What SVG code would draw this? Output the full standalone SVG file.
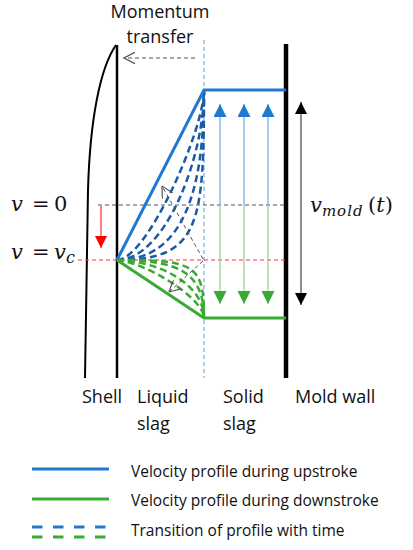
<svg xmlns="http://www.w3.org/2000/svg" width="413" height="550" viewBox="0 0 413 550">
<defs>
<style>
.lbl{font-family:"Open Sans","Noto Sans",sans-serif;font-size:18px;fill:#111}
.leg{font-family:"Open Sans","Noto Sans",sans-serif;font-size:15.5px;fill:#111}
.math{font-family:"DejaVu Serif","Liberation Serif",serif;font-size:21px;fill:#111}
.it{font-style:italic}
.blue{stroke:#1f78d1;stroke-width:3;fill:none}
.green{stroke:#3aaa35;stroke-width:3;fill:none}
.bdash{stroke:#1a5aa6;stroke-width:2.5;fill:none;stroke-dasharray:7 4}
.gdash{stroke:#3aaa35;stroke-width:2.5;fill:none;stroke-dasharray:7 4}
.gray{stroke:#555;stroke-width:1;fill:none;stroke-dasharray:4 3}
</style>
<marker id="open" viewBox="0 0 10 10" refX="9.5" refY="5" markerWidth="12" markerHeight="12" markerUnits="userSpaceOnUse" orient="auto">
<path d="M0,0 L9.5,5 L0,10" fill="none" stroke="#555" stroke-width="1"/>
</marker>
<marker id="blueHead" viewBox="0 0 10 10" refX="5" refY="0" markerWidth="13" markerHeight="13" markerUnits="userSpaceOnUse" orient="0">
<path d="M0,10 L5,0 L10,10 Z" fill="#1f78d1"/>
</marker>
<marker id="greenHead" viewBox="0 0 10 10" refX="5" refY="10" markerWidth="13" markerHeight="13" markerUnits="userSpaceOnUse" orient="0">
<path d="M0,0 L10,0 L5,10 Z" fill="#3aaa35"/>
</marker>
<marker id="redHead" viewBox="0 0 10 10" refX="5" refY="10" markerWidth="12" markerHeight="13" markerUnits="userSpaceOnUse" orient="0">
<path d="M0,0 L10,0 L5,10 Z" fill="#f00"/>
</marker>
<marker id="blkUp" viewBox="0 0 10 10" refX="5" refY="0" markerWidth="12" markerHeight="13" markerUnits="userSpaceOnUse" orient="0">
<path d="M0,10 L5,0 L10,10 Z" fill="#000"/>
</marker>
<marker id="blkDown" viewBox="0 0 10 10" refX="5" refY="10" markerWidth="12" markerHeight="13" markerUnits="userSpaceOnUse" orient="0">
<path d="M0,0 L10,0 L5,10 Z" fill="#000"/>
</marker>
</defs>
<rect width="413" height="550" fill="#fff"/>

<g id="shell">
<path d="M116,45 C100,68 90,120 88,190 L85,378" fill="none" stroke="#000" stroke-width="2"/>
<line x1="117" y1="45" x2="117" y2="378" stroke="#000" stroke-width="2.5"/>
<text class="lbl" x="82" y="403">Shell</text>
</g>

<g id="interface">
<line x1="204" y1="40" x2="204" y2="378" stroke="#5b9bd5" stroke-width="1" stroke-dasharray="4 3"/>
</g>

<g id="mold-wall">
<line x1="286" y1="44" x2="286" y2="378" stroke="#000" stroke-width="4.5"/>
<text class="lbl" x="295" y="403">Mold wall</text>
</g>

<g id="liquid-slag">
<text class="lbl" x="137" y="403">Liquid</text>
<text class="lbl" x="137" y="430">slag</text>
</g>

<g id="solid-slag">
<text class="lbl" x="223" y="403">Solid</text>
<text class="lbl" x="223" y="430">slag</text>
</g>

<g id="momentum">
<text class="lbl" x="160" y="18" text-anchor="middle">Momentum</text>
<text class="lbl" x="160" y="43" text-anchor="middle">transfer</text>
</g>

<g id="labels-math">
<text class="math" y="211"><tspan class="it" x="11">v</tspan><tspan x="32">=</tspan><tspan x="54">0</tspan></text>
<text class="math" y="259"><tspan class="it" x="11">v</tspan><tspan x="32">=</tspan><tspan class="it" x="54">v</tspan><tspan class="it" font-size="16" dy="4">c</tspan></text>
<text class="math" y="212"><tspan class="it" x="310">v</tspan><tspan class="it" font-size="15" dy="4" letter-spacing="1">mold</tspan><tspan dy="-4" x="368">(</tspan><tspan class="it">t</tspan><tspan>)</tspan></text>
</g>

<g id="connectors">
<line x1="98" y1="205" x2="286" y2="205" stroke="#555" stroke-width="1" stroke-dasharray="4 3"/>
<line x1="78" y1="260" x2="286" y2="260" stroke="#f33" stroke-width="1" stroke-dasharray="4 3"/>
<line x1="101" y1="206" x2="101" y2="248" stroke="#f00" stroke-width="1" marker-end="url(#redHead)"/>
<line x1="195" y1="58" x2="124" y2="58" class="gray" marker-end="url(#open)"/>
<line x1="220" y1="205" x2="220" y2="104" stroke="#6fa8e8" stroke-width="1.2" marker-end="url(#blueHead)"/>
<line x1="244" y1="205" x2="244" y2="104" stroke="#6fa8e8" stroke-width="1.2" marker-end="url(#blueHead)"/>
<line x1="268" y1="205" x2="268" y2="104" stroke="#6fa8e8" stroke-width="1.2" marker-end="url(#blueHead)"/>
<line x1="220" y1="205" x2="220" y2="304" stroke="#8fd08a" stroke-width="1.2" marker-end="url(#greenHead)"/>
<line x1="244" y1="205" x2="244" y2="304" stroke="#8fd08a" stroke-width="1.2" marker-end="url(#greenHead)"/>
<line x1="268" y1="205" x2="268" y2="304" stroke="#8fd08a" stroke-width="1.2" marker-end="url(#greenHead)"/>
<line x1="301" y1="102" x2="301" y2="305" stroke="#444" stroke-width="1.2" marker-start="url(#blkUp)" marker-end="url(#blkDown)"/>
<path class="bdash" d="M117,260 C147,260 204,130 204,90"/>
<path class="bdash" d="M117,260 C165,260 204,158 204,90"/>
<path class="bdash" d="M117,260 C183,260 204,192 204,90"/>
<path class="bdash" d="M117,260 C200,260 204,225 204,90"/>
<path class="gdash" d="M117,260 C145,262 204,298 204,318"/>
<path class="gdash" d="M117,260 C160,261 204,285 204,318"/>
<path class="gdash" d="M117,260 C178,260 204,272 204,318"/>
<path class="gdash" d="M117,260 C195,260 204,264 204,318"/>
<line x1="203" y1="259" x2="162" y2="186" class="gray" marker-end="url(#open)"/>
<line x1="203" y1="261" x2="169" y2="292" class="gray" marker-end="url(#open)"/>
<polyline class="blue" points="117,260 204,90 286,90"/>
<polyline class="green" points="117,260 204,318 286,318"/>
</g>

<g id="legend">
<line x1="32" y1="469" x2="109" y2="469" class="blue"/>
<line x1="32" y1="499" x2="109" y2="499" class="green"/>
<line x1="32" y1="527" x2="106" y2="527" stroke="#1f78d1" stroke-width="3" stroke-dasharray="10.5 10.5"/>
<line x1="32" y1="537" x2="106" y2="537" stroke="#3aaa35" stroke-width="3" stroke-dasharray="10.5 10.5"/>
<text class="leg" x="131" y="477">Velocity profile during upstroke</text>
<text class="leg" x="131" y="506">Velocity profile during downstroke</text>
<text class="leg" x="131" y="536">Transition of profile with time</text>
</g>
</svg>
